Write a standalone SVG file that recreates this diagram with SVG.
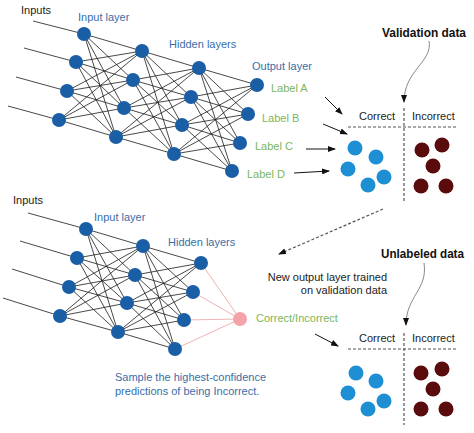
<svg xmlns="http://www.w3.org/2000/svg" width="474" height="433" viewBox="0 0 474 433">
<style>
text{font-family:"Liberation Sans",Arial,sans-serif;font-size:11px}
.blk{fill:#222}
.blue{fill:#3a6ea8}
.green{fill:#7ab65a}
.title{font-weight:bold;font-size:13px;fill:#111}
.n{fill:#1a5ea5}
.lb{fill:#1f8fd4}
.dr{fill:#5a0b0b}
.pk{fill:#f4a3a9}
.edge{stroke:#1a1a1a;stroke-width:0.8;fill:none}
.pedge{stroke:#f2b3b3;stroke-width:1;fill:none}
.dash{stroke:#555;stroke-width:1.2;stroke-dasharray:3 2;fill:none}
.arr{stroke:#111;stroke-width:1;fill:none;marker-end:url(#ah)}
.curve{stroke:#888;stroke-width:1;fill:none;marker-end:url(#ah)}
</style>
<defs>
<marker id="ah" markerWidth="8" markerHeight="6" refX="7" refY="3" orient="auto" markerUnits="userSpaceOnUse">
<path d="M0,0L8,3L0,6z" fill="#111"/>
</marker>
</defs>
<rect width="474" height="433" fill="#fff"/>
<g id="connectors">
<path class="edge" d="M33,21L84,34M24,48L76,62M16,77L67,91M8,106L59,120
M84,34L142,51M84,34L133,80M84,34L124,108M84,34L116,137
M76,62L142,51M76,62L133,80M76,62L124,108M76,62L116,137
M67,91L142,51M67,91L133,80M67,91L124,108M67,91L116,137
M59,120L142,51M59,120L133,80M59,120L124,108M59,120L116,137
M142,51L199,68M142,51L191,97M142,51L182,125M142,51L174,154
M133,80L199,68M133,80L191,97M133,80L182,125M133,80L174,154
M124,108L199,68M124,108L191,97M124,108L182,125M124,108L174,154
M116,137L199,68M116,137L191,97M116,137L182,125M116,137L174,154
M199,68L257,85M199,68L248,114M199,68L240,143M199,68L232,171
M191,97L257,85M191,97L248,114M191,97L240,143M191,97L232,171
M182,125L257,85M182,125L248,114M182,125L240,143M182,125L232,171
M174,154L257,85M174,154L248,114M174,154L240,143M174,154L232,171"/>
<path class="edge" d="M28,213L86,229M20,241L77,258M12,269L69,287M3,298L60,316
M86,229L143,246M86,229L135,275M86,229L127,303M86,229L118,332
M77,258L143,246M77,258L135,275M77,258L127,303M77,258L118,332
M69,287L143,246M69,287L135,275M69,287L127,303M69,287L118,332
M60,316L143,246M60,316L135,275M60,316L127,303M60,316L118,332
M143,246L201,263M143,246L193,292M143,246L184,320M143,246L175,349
M135,275L201,263M135,275L193,292M135,275L184,320M135,275L175,349
M127,303L201,263M127,303L193,292M127,303L184,320M127,303L175,349
M118,332L201,263M118,332L193,292M118,332L184,320M118,332L175,349"/>
<path class="pedge" d="M201,263L240,319M193,292L240,319M184,320L240,319M175,349L240,319"/>
<path class="arr" d="M325,97L342,114"/>
<path class="arr" d="M323,124L347,134"/>
<path class="arr" d="M306,149L335,149"/>
<path class="arr" d="M294,173L329,171"/>
<path class="arr" d="M315,334L338,346"/>
<path class="curve" d="M429,41C433,62 404,70 404,102"/>
<path class="curve" d="M424,263C428,290 406,296 406,325"/>
<path class="dash" d="M383,209L279,254" marker-end="url(#ah)"/>
</g>
<g id="top-network">
<g id="top-input-layer" class="n"><circle cx="84" cy="34" r="7"/><circle cx="76" cy="62" r="7"/><circle cx="67" cy="91" r="7"/><circle cx="59" cy="120" r="7"/></g>
<g id="top-hidden-1" class="n"><circle cx="142" cy="51" r="7"/><circle cx="133" cy="80" r="7"/><circle cx="124" cy="108" r="7"/><circle cx="116" cy="137" r="7"/></g>
<g id="top-hidden-2" class="n"><circle cx="199" cy="68" r="7"/><circle cx="191" cy="97" r="7"/><circle cx="182" cy="125" r="7"/><circle cx="174" cy="154" r="7"/></g>
<g id="top-output-layer" class="n"><circle cx="257" cy="85" r="7"/><circle cx="248" cy="114" r="7"/><circle cx="240" cy="143" r="7"/><circle cx="232" cy="171" r="7"/></g>
<text class="blk" x="21" y="14">Inputs</text>
<text class="blue" x="78" y="21">Input layer</text>
<text class="blue" x="169" y="48">Hidden layers</text>
<text class="blue" x="252" y="70">Output layer</text>
<text class="green" x="271" y="92">Label A</text>
<text class="green" x="262" y="122">Label B</text>
<text class="green" x="255" y="150">Label C</text>
<text class="green" x="247" y="178">Label D</text>
</g>
<g id="validation-table">
<text class="title" x="382" y="37" textLength="84" lengthAdjust="spacingAndGlyphs">Validation data</text>
<text class="blk" x="359" y="120">Correct</text>
<text class="blk" x="412" y="120">Incorrect</text>
<path class="dash" d="M348,127H458M404,108V203"/>
<g class="lb"><circle cx="355" cy="148" r="7.5"/><circle cx="376" cy="157" r="7.5"/><circle cx="348" cy="169" r="7.5"/><circle cx="384" cy="177" r="7.5"/><circle cx="368" cy="185" r="7.5"/></g>
<g class="dr"><circle cx="422" cy="150" r="7.5"/><circle cx="442" cy="145" r="7.5"/><circle cx="433" cy="166" r="7.5"/><circle cx="421" cy="186" r="7.5"/><circle cx="446" cy="186" r="7.5"/></g>
</g>
<g id="bottom-network">
<g id="bottom-input-layer" class="n"><circle cx="86" cy="229" r="7"/><circle cx="77" cy="258" r="7"/><circle cx="69" cy="287" r="7"/><circle cx="60" cy="316" r="7"/></g>
<g id="bottom-hidden-1" class="n"><circle cx="143" cy="246" r="7"/><circle cx="135" cy="275" r="7"/><circle cx="127" cy="303" r="7"/><circle cx="118" cy="332" r="7"/></g>
<g id="bottom-hidden-2" class="n"><circle cx="201" cy="263" r="7"/><circle cx="193" cy="292" r="7"/><circle cx="184" cy="320" r="7"/><circle cx="175" cy="349" r="7"/></g>
<g id="new-output-node" class="pk"><circle cx="240" cy="319" r="7"/></g>
<text class="blk" x="13" y="204">Inputs</text>
<text class="blue" x="94" y="221">Input layer</text>
<text class="blue" x="168" y="246">Hidden layers</text>
<text class="green" x="256" y="322">Correct/Incorrect</text>
<text class="blue" x="115" y="381">Sample the highest-confidence</text>
<text class="blue" x="115" y="395">predictions of being Incorrect.</text>
</g>
<g id="new-output-note">
<text class="blk" x="387" y="281" text-anchor="end">New output layer trained</text>
<text class="blk" x="387" y="294" text-anchor="end">on validation data</text>
</g>
<g id="unlabeled-table">
<text class="title" x="381" y="258" textLength="83" lengthAdjust="spacingAndGlyphs">Unlabeled data</text>
<text class="blk" x="359" y="342">Correct</text>
<text class="blk" x="412" y="342">Incorrect</text>
<path class="dash" d="M348,349H458M404,333V425"/>
<g class="lb"><circle cx="356" cy="373" r="7.5"/><circle cx="376" cy="381" r="7.5"/><circle cx="348" cy="393" r="7.5"/><circle cx="384" cy="401" r="7.5"/><circle cx="368" cy="409" r="7.5"/></g>
<g class="dr"><circle cx="421" cy="373" r="7.5"/><circle cx="442" cy="369" r="7.5"/><circle cx="433" cy="389" r="7.5"/><circle cx="421" cy="409" r="7.5"/><circle cx="446" cy="409" r="7.5"/></g>
</g>
</svg>
